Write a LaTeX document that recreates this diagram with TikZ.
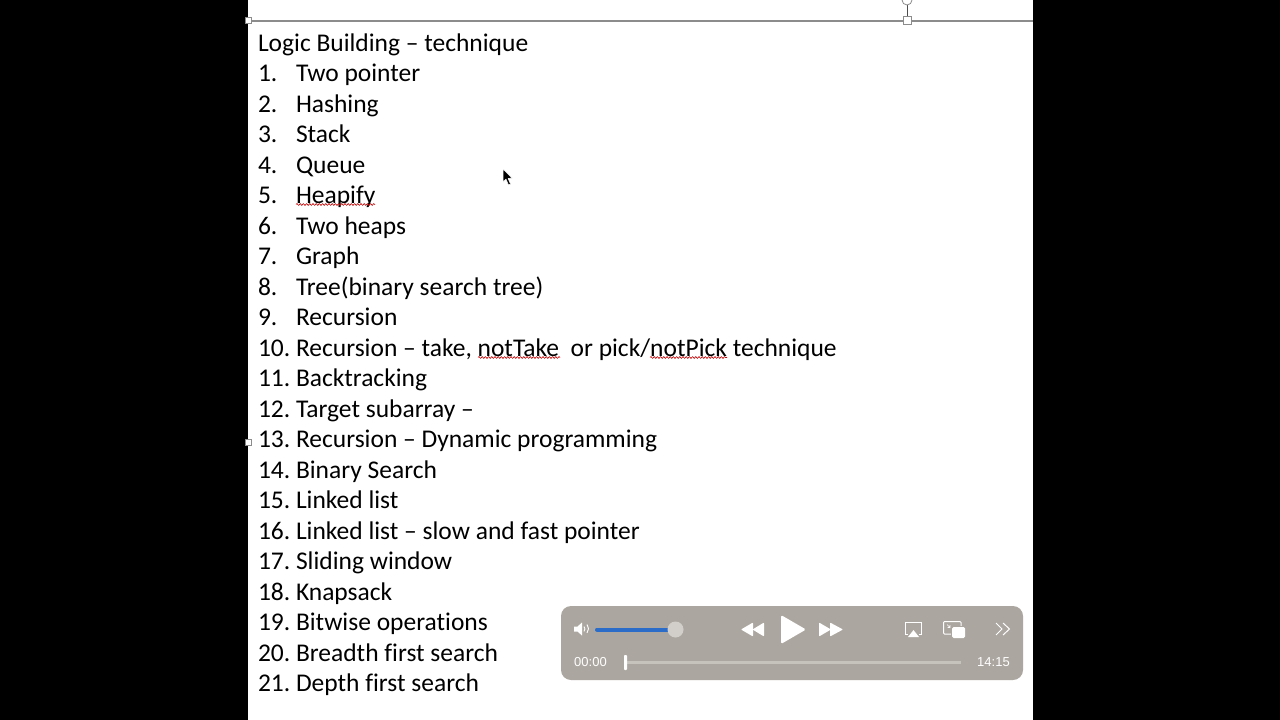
\documentclass[tikz,border=0pt]{standalone}
\usepackage{fontspec}
\setmainfont[RawFeature={-liga;-clig}]{Carlito}
\newfontfamily\uifont{Liberation Sans}
\usetikzlibrary{decorations.pathmorphing}
\definecolor{panel}{HTML}{ABA69F}
\definecolor{trackc}{HTML}{C6C2BC}
\definecolor{knobc}{HTML}{D2CFCA}
\definecolor{bluec}{HTML}{2A6CC8}
\definecolor{edgec}{HTML}{8C8C8C}
\tikzset{
  x=1pt,y=-1pt,
  txt/.style={anchor=base west,inner sep=0pt,outer sep=0pt,text=black,font=\fontsize{25.5}{30}\selectfont},
  squig/.style={draw=red!75!black,line width=0.6pt,decorate,decoration={snake,amplitude=0.9pt,segment length=3.2pt}},
  handle/.style={draw=edgec,fill=white,line width=0.7pt},
  ui/.style={fill=white,draw=none},
  uitime/.style={anchor=base west,inner sep=0pt,text=white,font=\uifont\fontsize{13}{14}\selectfont},
}
\begin{document}
\begin{tikzpicture}
\useasboundingbox (0,0) rectangle (1280,720);
\fill[black] (0,0) rectangle (1280,720);
\fill[white] (248,0) rectangle (1033,720);
% frame line and handles
\draw[edgec,line width=1.4pt] (248,21) -- (1033,21);
\draw[black!70,line width=0.8pt] (907,5) -- (907,16);
\draw[edgec,fill=white,line width=0.8pt] (907,0) circle (5);
\draw[handle] (245.5,17.5) rectangle (251,23);
\draw[handle] (903,16) rectangle (911.5,24);
\draw[handle] (245.5,439.5) rectangle (251,445);
% text
\node[txt] (title) at (258,51) {Logic Building – technique};
\foreach \n/\t [count=\i from 1] in {
 1./Two pointer,2./Hashing,3./Stack,4./Queue,5./Heapify,6./Two heaps,7./Graph,
 8./Tree(binary search tree),9./Recursion,
 10./{Recursion – take, notTake\ \ or pick/notPick technique},
 11./Backtracking,12./Target subarray –,13./Recursion – Dynamic programming,
 14./Binary Search,15./Linked list,16./Linked list – slow and fast pointer,
 17./Sliding window,18./Knapsack,19./Bitwise operations,20./Breadth first search,
 21./Depth first search}{
  \node[txt] (num\i) at (258,51+30.52*\i) {\n};
  \node[txt] (item\i) at (296,51+30.52*\i) {\t};
}
% spelling squiggles
\draw[squig] (296,204.5) -- (375,204.5);
\draw[squig] (478,357.5) -- (560,357.5);
\draw[squig] (650,357.5) -- (727,357.5);
% mouse cursor
\draw[fill=black,draw=white,line width=0.5pt,line join=round] (503,169) -- (503,182) -- (506,179) -- (508.5,185) -- (510.5,184) -- (508,178.5) -- (512,178) -- cycle;
% media panel
\fill[panel,rounded corners=10pt] (561,606) rectangle (1023,680);
% volume icon
\fill[ui] (574,626.5) -- (577.5,626.5) -- (582,622.5) -- (582,635.5) -- (577.5,631.5) -- (574,631.5) -- cycle;
\draw[white,line width=0.9pt] (584,626.5) arc (-40:40:3.8 and 3.8);
\draw[white,line width=0.9pt] (587,624.5) arc (-40:40:6.5 and 6.5);
% volume slider
\draw[bluec,line width=4pt,line cap=round] (597,629.5) -- (675,629.5);
\fill[knobc] (675.5,629.5) circle (8);
% rewind
\fill[ui,rounded corners=0.8pt] (764,622.5) -- (764,636.5) -- (752.5,629.5) -- cycle;
\fill[ui,rounded corners=0.8pt] (753,622.5) -- (753,636.5) -- (741,629.5) -- cycle;
% play
\fill[ui,rounded corners=1.5pt] (781,615) -- (806,629.5) -- (781,644) -- cycle;
% forward
\fill[ui,rounded corners=0.8pt] (819,622.5) -- (819,636.5) -- (831,629.5) -- cycle;
\fill[ui,rounded corners=0.8pt] (830,622.5) -- (830,636.5) -- (843,629.5) -- cycle;
% airplay
\draw[white,line width=1pt] (908,634) -- (905.5,634) -- (905.5,622.5) -- (921.5,622.5) -- (921.5,634) -- (919,634);
\fill[ui] (913.5,630) -- (908,637) -- (919,637) -- cycle;
% picture in picture
\draw[white,line width=1pt,rounded corners=1pt] (943.5,621.5) rectangle (961,634);
\fill[panel] (950.5,625.5) rectangle (966,639);
\fill[ui,rounded corners=1.5pt] (952,627) rectangle (965,638);
\draw[white,line width=0.7pt] (947,624.5) -- (950,627.5) (950,625) -- (950,627.5) -- (947.5,627.5);
% more chevrons
\draw[white,line width=1pt] (996,623) -- (1002,629) -- (996,635) (1003,623) -- (1009.5,629) -- (1003,635);
% time track
\draw[trackc,line width=3pt] (625,662) -- (961,662);
\fill[ui,rounded corners=0.8pt] (624,655) rectangle (627,670);
\node[uitime] (tstart) at (574,666.5) {00:00};
\node[uitime] (tend) at (977,666.5) {14:15};
\end{tikzpicture}
\end{document}
